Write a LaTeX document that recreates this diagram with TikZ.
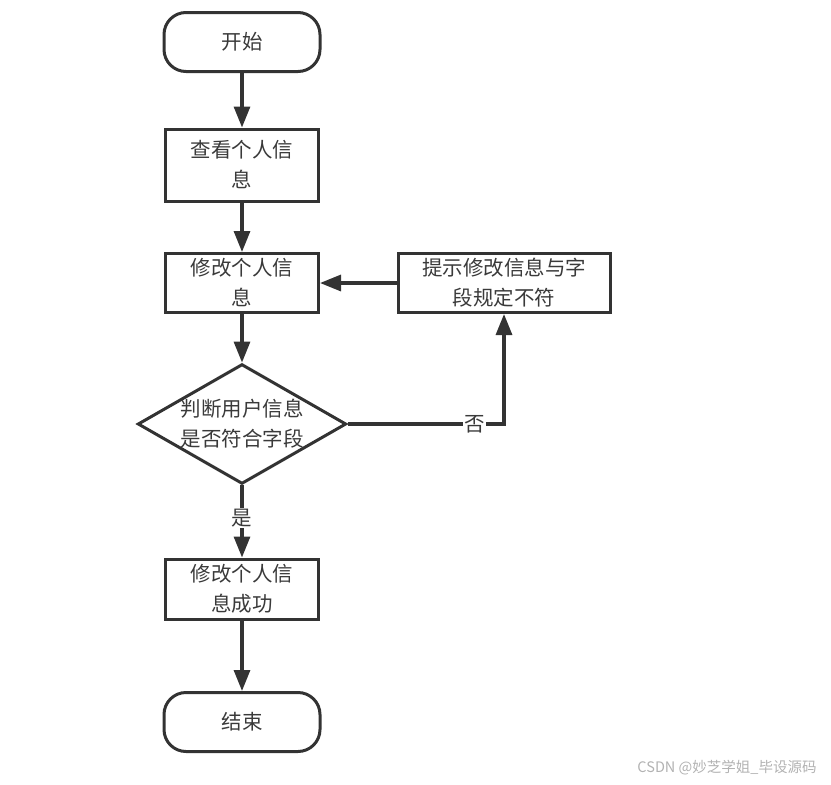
\documentclass[tikz,border=0pt]{standalone}
\usepackage{fontspec}
\setmainfont{Noto Sans CJK SC}
\usetikzlibrary{arrows.meta,shapes.geometric}

\definecolor{linegray}{HTML}{333333}
\definecolor{textgray}{HTML}{3A3A3A}

\tikzset{
	flowline/.style={draw=linegray, line width=3pt},
	terminal/.style={flowline, rounded corners=22pt, minimum width=156pt, minimum height=59pt, text=textgray, font=\fontsize{20.5}{30}\selectfont},
	procbox/.style={flowline, minimum width=153pt, minimum height=60pt, align=center, text=textgray, font=\fontsize{20.5}{30}\selectfont, inner sep=0pt},
	decision/.style={flowline, diamond, aspect=1.74, minimum width=205pt, minimum height=118pt, inner sep=0pt, align=center, text=textgray, font=\fontsize{20.5}{30}\selectfont},
	flowarrow/.style={draw=linegray, line width=3.2pt, -{Triangle[length=21pt,width=16pt]}},
	branch/.style={fill=white, text=textgray, inner sep=1pt, font=\fontsize{20.5}{22}\selectfont}
}

\begin{document}
\begin{tikzpicture}[x=1pt, y=-1pt]
	\useasboundingbox (0,0) rectangle (831,785);
	% main column
	\node[terminal] (start) at (242,42) {开始};
	\node[procbox, minimum height=72pt] (view) at (242,165) {查看个人信\\息};
	\node[procbox, minimum height=59pt] (edit) at (242,283) {修改个人信\\息};
	\node[procbox, minimum width=212pt, minimum height=59pt] (hint) at (504,283) {提示修改信息与字\\段规定不符};
	\node[decision] (check) at (242,424) {判断用户信息\\是否符合字段};
	\node[procbox] (done) at (242,589) {修改个人信\\息成功};
	\node[terminal] (stop) at (242,722) {结束};
	% connectors
	\draw[flowarrow] (start) -- (view);
	\draw[flowarrow] (view) -- (edit);
	\draw[flowarrow] (edit) -- (check);
	\draw[flowarrow] (check) -- node[branch, pos=0.45] {是} (done);
	\draw[flowarrow] (done) -- (stop);
	\draw[flowarrow] (check.east) -- node[branch, pos=0.81] {否} (hint.south |- check.east) -- (hint.south);
	\draw[flowarrow] (hint) -- (edit);
	% watermark
	\node[text=black!30, font=\fontsize{14.5}{16}\selectfont] (mark) at (727,768) {CSDN @妙芝学姐\_毕设源码};
\end{tikzpicture}
\end{document}
